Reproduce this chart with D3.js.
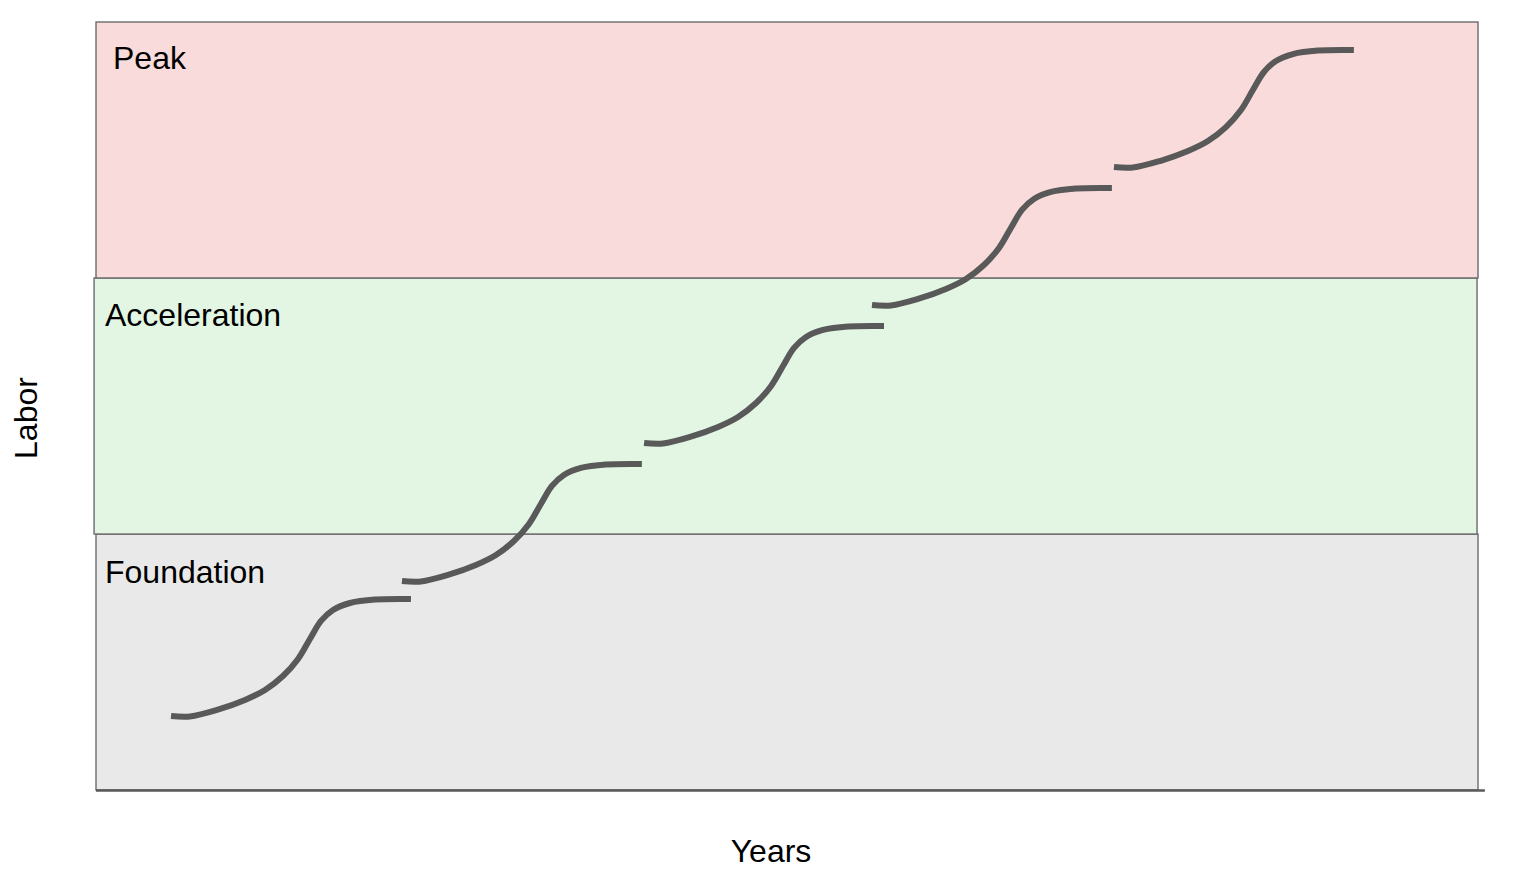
<!DOCTYPE html>
<html>
<head>
<meta charset="utf-8">
<script src="https://cdn.jsdelivr.net/npm/d3@7"></script>
<style>
  html, body { margin: 0; padding: 0; background: #ffffff; }
  svg { display: block; }
  text { font-family: "Liberation Sans", Arial, sans-serif; fill: #000; }
</style>
</head>
<body>
<svg id="chart" width="1516" height="874"></svg>
<script>
// ---- Data (abstract units: years 0-100, labor 0-100) ----
const bandNames = ["Peak", "Acceleration", "Foundation"];
const bandLow   = [66.67, 33.33, 0];
const bandHigh  = [100, 66.67, 33.33];
const bandStart = [0, -0.14, 0];
const bandEnd   = [100, 99.93, 100];
const bandColors = ["#f8dbda", "#e2f6e3", "#e9e9e9"];

const xLabel = "Years";
const yLabel = "Labor";

const seg1X = [5.43, 6.80, 8.76, 10.78, 12.23, 13.53, 14.62, 15.48, 16.28, 17.15, 18.38, 20.19, 22.79];
const seg1Y = [9.64, 9.57, 10.42, 11.72, 13.02, 14.84, 17.06, 19.66, 22.01, 23.44, 24.35, 24.80, 24.87];
const seg2X = [22.14, 23.51, 25.47, 27.49, 28.94, 30.24, 31.33, 32.19, 32.99, 33.86, 35.09, 36.90, 39.50];
const seg2Y = [27.22, 27.15, 28.00, 29.30, 30.60, 32.42, 34.64, 37.24, 39.59, 41.02, 41.93, 42.38, 42.45];
const seg3X = [39.66, 41.03, 42.99, 45.01, 46.46, 47.76, 48.85, 49.71, 50.51, 51.38, 52.61, 54.42, 57.02];
const seg3Y = [45.19, 45.12, 45.97, 47.27, 48.57, 50.39, 52.61, 55.21, 57.56, 58.99, 59.90, 60.35, 60.42];
const seg4X = [56.15, 57.52, 59.48, 61.50, 62.95, 64.25, 65.34, 66.20, 67.00, 67.87, 69.10, 70.91, 73.51];
const seg4Y = [63.16, 63.09, 63.94, 65.24, 66.54, 68.36, 70.58, 73.18, 75.53, 76.96, 77.87, 78.32, 78.39];
const seg5X = [73.66, 75.03, 76.99, 79.01, 80.46, 81.76, 82.85, 83.71, 84.51, 85.38, 86.61, 88.42, 91.02];
const seg5Y = [81.12, 81.05, 81.90, 83.20, 84.50, 86.32, 88.54, 91.14, 93.49, 94.92, 95.83, 96.28, 96.35];
const axisEnd = 100.5;

// ---- Build ----
const svg = d3.select("#chart");
const x = d3.scaleLinear().domain([0, 100]).range([96, 1478]);
const y = d3.scaleLinear().domain([0, 100]).range([790, 22]);

const bands = bandNames.map((n, i) => ({
  name: n, lo: bandLow[i], hi: bandHigh[i], x0: bandStart[i], x1: bandEnd[i], color: bandColors[i]
}));

const order = [2, 1, 0];
svg.append("g").selectAll("rect")
  .data(order.map(i => bands[i]))
  .join("rect")
  .attr("x", d => x(d.x0))
  .attr("y", d => y(d.hi))
  .attr("width", d => x(d.x1) - x(d.x0))
  .attr("height", d => y(d.lo) - y(d.hi))
  .attr("fill", d => d.color)
  .attr("stroke", "#6b6b6b")
  .attr("stroke-width", 1.4);

const labelX = [113, 105, 105];
const labelDy = [47, 48, 49];
svg.append("g").selectAll("text")
  .data(bands)
  .join("text")
  .attr("x", (d, i) => labelX[i])
  .attr("y", (d, i) => y(d.hi) + labelDy[i])
  .attr("font-size", 32)
  .text(d => d.name);

// bottom axis line
svg.append("line")
  .attr("x1", x(0)).attr("x2", x(axisEnd))
  .attr("y1", y(0) + 0.5).attr("y2", y(0) + 0.5)
  .attr("stroke", "#5a5a5a")
  .attr("stroke-width", 2.6);

// curves
const segs = [[seg1X, seg1Y], [seg2X, seg2Y], [seg3X, seg3Y], [seg4X, seg4Y], [seg5X, seg5Y]]
  .map(([xs, ys]) => xs.map((v, i) => [v, ys[i]]));

const line = d3.line()
  .x(d => x(d[0]))
  .y(d => y(d[1]))
  .curve(d3.curveCatmullRom.alpha(0.5));

svg.append("g").selectAll("path")
  .data(segs)
  .join("path")
  .attr("d", line)
  .attr("fill", "none")
  .attr("stroke", "#595959")
  .attr("stroke-width", 6)
  .attr("stroke-linecap", "butt")
  .attr("stroke-linejoin", "round");

// axis titles
svg.append("text")
  .attr("x", 771).attr("y", 862)
  .attr("text-anchor", "middle")
  .attr("font-size", 32)
  .text(xLabel);

svg.append("text")
  .attr("transform", "translate(37,418) rotate(-90)")
  .attr("text-anchor", "middle")
  .attr("font-size", 32)
  .text(yLabel);
</script>
</body>
</html>
